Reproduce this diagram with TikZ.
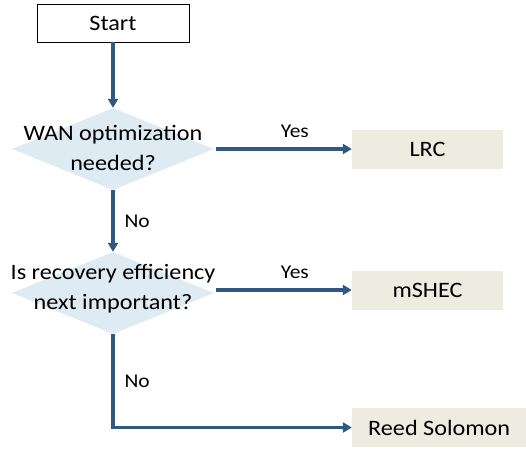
\documentclass[tikz,border=0pt]{standalone}
\usepackage{fontspec}
\setmainfont{Carlito}[FakeStretch=1.1]
\usetikzlibrary{shapes.geometric,arrows.meta}
\definecolor{lineblue}{RGB}{47,88,133}
\definecolor{diafill}{RGB}{222,235,243}
\definecolor{boxfill}{RGB}{238,236,225}
\tikzset{
  txt/.style={font=\fontsize{22}{30}\selectfont, align=center, inner sep=0pt},
  startbox/.style={draw=black, line width=0.9pt, minimum width=152pt, minimum height=38pt, inner sep=0pt},
  decision/.style={diamond, fill=diafill, minimum width=202pt, minimum height=82pt, inner sep=0pt},
  endbox/.style={rectangle, fill=boxfill, minimum height=39pt, inner sep=0pt},
  conn/.style={draw=lineblue, line width=3.2pt, -{Triangle[length=9pt,width=10pt]}},
  lbl/.style={font=\fontsize{19.5}{22}\selectfont, inner sep=0pt}
}
\begin{document}
\begin{tikzpicture}[x=1pt,y=1pt]
\useasboundingbox (0,0) rectangle (526,-455);
\node[startbox] (start) at (113,-23) {};
\node[txt] (startt) at (start) {Start};
\node[decision] (d1) at (113,-149) {};
\node[txt] (d1t) at (113,-148) {WAN optimization\\needed?};
\node[decision] (d2) at (113,-293) {};
\node[txt] (d2t) at (113,-289) {Is recovery efficiency\\next important?};
\node[endbox, minimum width=151pt] (lrc) at (427.5,-149) {};
\node[txt] (lrct) at (lrc) {LRC};
\node[endbox, minimum width=151pt] (mshec) at (427.5,-290) {};
\node[txt] (mshect) at (mshec) {mSHEC};
\node[endbox, minimum width=174pt] (rs) at (439,-427.5) {};
\node[txt, anchor=west] (rst) at (368,-427.5) {Reed Solomon};
\draw[conn] (start.south) -- (d1.north);
\draw[conn] ([xshift=2pt]d1.east) -- (lrc.west) node[lbl, pos=0.58, above=10pt] (y1) {Yes};
\draw[conn] (d1.south) -- (d2.north) node[lbl, pos=0.5, right=10pt] (n1) {No};
\draw[conn] ([xshift=2pt]d2.east |- mshec.west) -- (mshec.west) node[lbl, pos=0.58, above=10pt] (y2) {Yes};
\draw[conn] (d2.south) |- (rs.west) node[lbl, pos=0.25, right=10pt] (n2) {No};
\end{tikzpicture}
\end{document}
